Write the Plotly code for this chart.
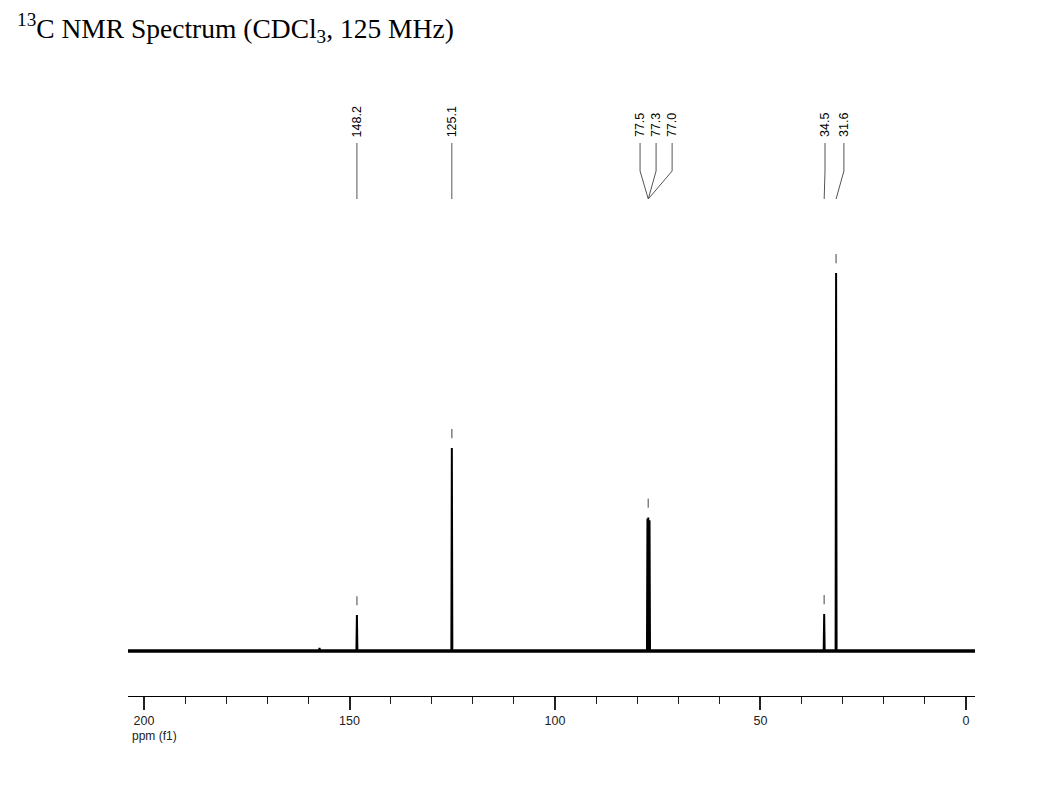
import plotly.graph_objects as go

# ---- data ----
peak_ppm = [157.3, 148.2, 125.1, 77.5, 77.3, 77.0, 34.5, 31.6]
peak_int = [0.8, 9.5, 53.7, 35.0, 35.3, 34.6, 9.8, 100.0]
label_ppm = [148.2, 125.1, 77.5, 77.3, 77.0, 34.5, 31.6]
label_text = ["148.2", "125.1", "77.5", "77.3", "77.0", "34.5", "31.6"]
label_pos = [148.2, 125.1, 79.3, 75.4, 71.5, 34.3, 29.7]
marked = [148.2, 125.1, 77.3, 34.5, 31.6]
x_range = [203.9, -2.2]
tick_vals = [200, 150, 100, 50, 0]

W, H = 1045, 793
def py(p):
    return 1 - p / H

# spectrum trace built from peak list
xs, ys = [x_range[0]], [0]
for p, h in sorted(zip(peak_ppm, peak_int), key=lambda t: -t[0]):
    xs += [p + 0.12, p, p - 0.12]
    ys += [0, h, 0]
xs.append(x_range[1]); ys.append(0)

fig = go.Figure()
# baseline (noise band)
fig.add_trace(go.Scatter(x=[x_range[0], x_range[1]], y=[0, 0], mode="lines",
                         line=dict(color="black", width=3.5), hoverinfo="skip"))
fig.add_trace(go.Scatter(x=xs, y=ys, mode="lines",
                         line=dict(color="black", width=2), hoverinfo="skip"))

# short peak-pick markers above peaks
mx, my = [], []
for p in marked:
    h = max(hh for pp, hh in zip(peak_ppm, peak_int) if abs(pp - p) < 0.6)
    mx += [p, p, None]
    my += [h + 2.6, h + 5.0, None]
fig.add_trace(go.Scatter(x=mx, y=my, mode="lines",
                         line=dict(color="#808080", width=1.5), hoverinfo="skip"))

shapes = []
annotations = []
for ppm, txt, lp in zip(label_ppm, label_text, label_pos):
    annotations.append(dict(x=lp, xref="x", y=py(139), yref="paper", text=txt,
                            textangle=-90, showarrow=False, xanchor="center",
                            yanchor="bottom",
                            font=dict(family="Liberation Sans, Arial", size=12.5, color="black")))
    shapes.append(dict(type="line", xref="x", yref="paper", x0=lp, x1=lp,
                       y0=py(143), y1=py(171), line=dict(color="#555555", width=1)))
    target = 77.3 if 76.9 <= ppm <= 77.6 else ppm
    shapes.append(dict(type="line", xref="x", yref="paper", x0=lp, x1=target,
                       y0=py(171), y1=py(199), line=dict(color="#555555", width=1)))

annotations.append(dict(x=15 / W, xref="paper", y=py(28), yref="paper",
                        text="<sup>13</sup>C NMR Spectrum (CDCl<sub>3</sub>, 125 MHz)",
                        showarrow=False, xanchor="left", yanchor="middle",
                        font=dict(family="Liberation Serif, Times New Roman, serif",
                                  size=27.5, color="black")))
annotations.append(dict(x=130 / W, xref="paper", y=py(736), yref="paper",
                        text="ppm (f1)", showarrow=False, xanchor="left", yanchor="middle",
                        font=dict(family="Liberation Sans, Arial", size=12, color="#222222")))

fig.update_layout(
    width=W, height=H, margin=dict(l=0, r=0, t=0, b=0),
    paper_bgcolor="white", plot_bgcolor="white", showlegend=False,
    shapes=shapes, annotations=annotations,
    xaxis=dict(domain=[128 / W, 975 / W], range=x_range, showgrid=False, zeroline=False,
               showline=True, linecolor="black", linewidth=1.2,
               ticks="outside", ticklen=13, tickwidth=2, tickcolor="#222222",
               tickvals=tick_vals, ticktext=[str(v) for v in tick_vals],
               tickfont=dict(family="Liberation Sans, Arial", size=12.5, color="#222222"),
               minor=dict(dtick=10, tick0=0, ticks="outside", ticklen=7, tickwidth=1,
                          tickcolor="#222222", showgrid=False)),
    yaxis=dict(domain=[py(696), 1], range=[-11.9, 172.2], visible=False),
)
fig.write_html("out.html")
